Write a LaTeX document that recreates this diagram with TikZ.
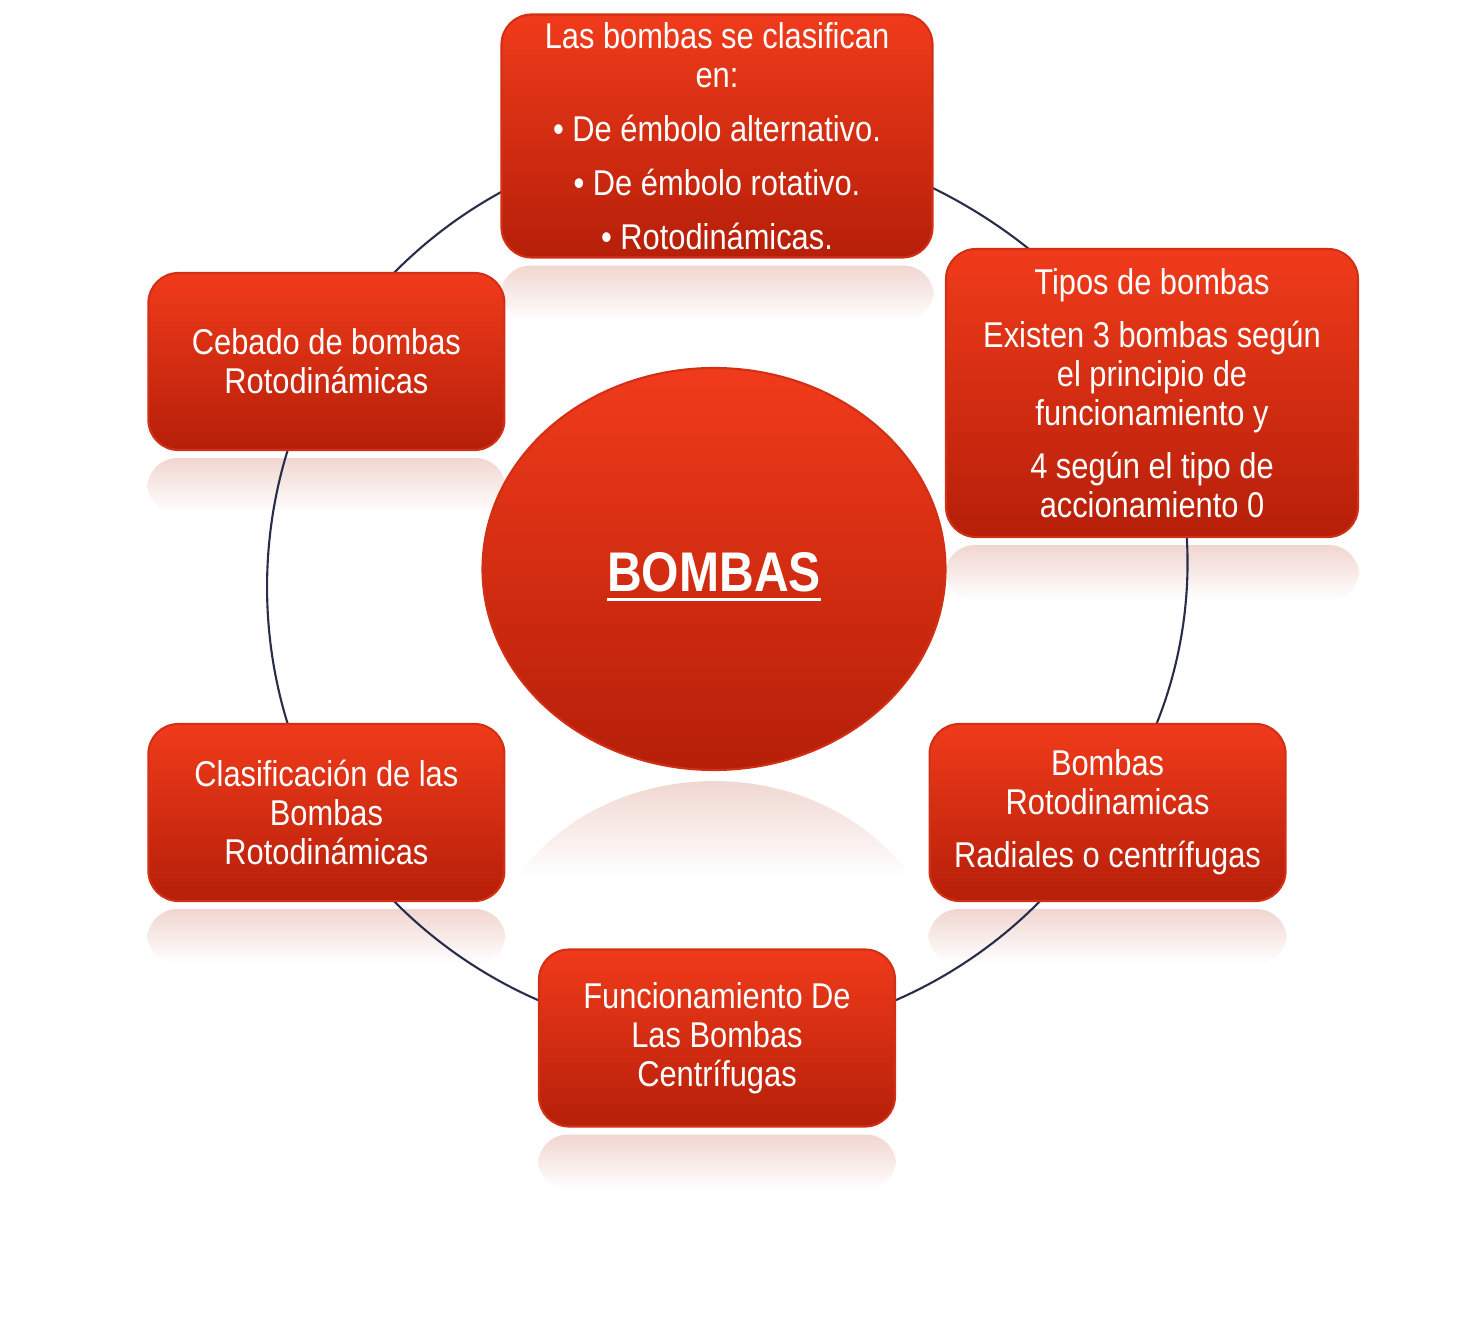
\documentclass[tikz,border=0pt]{standalone}
\usepackage{fontspec}
\setmainfont{Liberation Sans}[FakeStretch=0.86]
\usepackage{tikz}
\usetikzlibrary{shapes.geometric, backgrounds}

\definecolor{BoxTop}{RGB}{240,59,27}
\definecolor{BoxBottom}{RGB}{182,31,9}
\definecolor{BoxRim}{RGB}{210,48,22}
\definecolor{RingLine}{RGB}{40,46,74}
\definecolor{MirrorPink}{RGB}{241,214,208}

\tikzset{
  pumpbox/.style={rectangle, rounded corners=0.3cm, top color=BoxTop,
    bottom color=BoxBottom, draw=BoxRim, line width=0.6pt, text=white,
    align=center, inner sep=0pt, font=\fontsize{10.2}{11.1}\selectfont},
  mirror/.style={rounded corners=0.3cm, top color=MirrorPink, bottom color=white},
  ring/.style={draw=RingLine, line width=0.6pt, looseness=0.9}
}

\begin{document}
\begin{tikzpicture}
  \useasboundingbox (-7.17,-7.32) rectangle (7.47,5.87);

  \node (bombas) at (-0.03,0.18) [ellipse, minimum width=4.63cm,
     minimum height=4.02cm, top color=BoxTop, bottom color=BoxBottom,
     draw=BoxRim, line width=0.6pt, text=white,
     font=\fontsize{15.9}{17}\selectfont\bfseries]
     {\rule{0pt}{0.55cm}\vtop{\hbox{BOMBAS}\kern1.7pt\hrule height 0.9pt}};

  \node (clasif) at (90:4.51) [pumpbox, minimum width=4.31cm,
     minimum height=2.43cm] {Las bombas se clasifican\\en:\\[4.3pt]
     • De émbolo alternativo.\\[4.3pt]• De émbolo rotativo.\\[4.3pt]
     • Rotodinámicas.};
  \node (tipos) at (4.35,1.94) [pumpbox, minimum width=4.12cm,
     minimum height=2.88cm] {Tipos de bombas\\[4pt]Existen 3 bombas según\\
     el principio de\\funcionamiento y\\[4pt]4 según el tipo de\\
     accionamiento 0};
  \node (radiales) at (-30:4.51) [pumpbox, minimum width=3.56cm,
     minimum height=1.77cm] {Bombas\\Rotodinamicas\\[4pt]Radiales o centrífugas};
  \node (funcion) at (270:4.51) [pumpbox, minimum width=3.56cm,
     minimum height=1.77cm] {Funcionamiento De\\Las Bombas\\Centrífugas};
  \node (rotodin) at (210:4.51) [pumpbox, minimum width=3.56cm,
     minimum height=1.77cm] {Clasificación de las\\Bombas\\Rotodinámicas};
  \node (cebado) at (150:4.51) [pumpbox, minimum width=3.56cm,
     minimum height=1.77cm] {Cebado de bombas\\Rotodinámicas};

  \begin{pgfonlayer}{background}
    % reflections under the shapes
    \shade [mirror] ([yshift=-0.07cm]clasif.south west) rectangle ([yshift=-0.62cm]clasif.south east);
    \shade [mirror] ([yshift=-0.07cm]tipos.south west) rectangle ([yshift=-0.62cm]tipos.south east);
    \shade [mirror] ([yshift=-0.07cm]radiales.south west) rectangle ([yshift=-0.62cm]radiales.south east);
    \shade [mirror] ([yshift=-0.07cm]funcion.south west) rectangle ([yshift=-0.62cm]funcion.south east);
    \shade [mirror] ([yshift=-0.07cm]rotodin.south west) rectangle ([yshift=-0.62cm]rotodin.south east);
    \shade [mirror] ([yshift=-0.07cm]cebado.south west) rectangle ([yshift=-0.62cm]cebado.south east);
    \begin{scope}
      \clip ([yshift=-2.11cm]bombas.south) ellipse [x radius=2.31cm, y radius=2.01cm];
      \shade [top color=MirrorPink, bottom color=white]
        ([xshift=-2.4cm, yshift=-0.08cm]bombas.south) rectangle ([xshift=2.4cm, yshift=-1.05cm]bombas.south);
    \end{scope}

    % the ring
    \draw [ring] (clasif.center) to [bend left=30] (tipos.center);
    \draw [ring] (tipos.center) to [bend left=30] (radiales.center);
    \draw [ring] (radiales.center) to [bend left=30] (funcion.center);
    \draw [ring] (funcion.center) to [bend left=30] (rotodin.center);
    \draw [ring] (rotodin.center) to [bend left=30] (cebado.center);
    \draw [ring] (cebado.center) to [bend left=30] (clasif.center);
  \end{pgfonlayer}
\end{tikzpicture}
\end{document}
